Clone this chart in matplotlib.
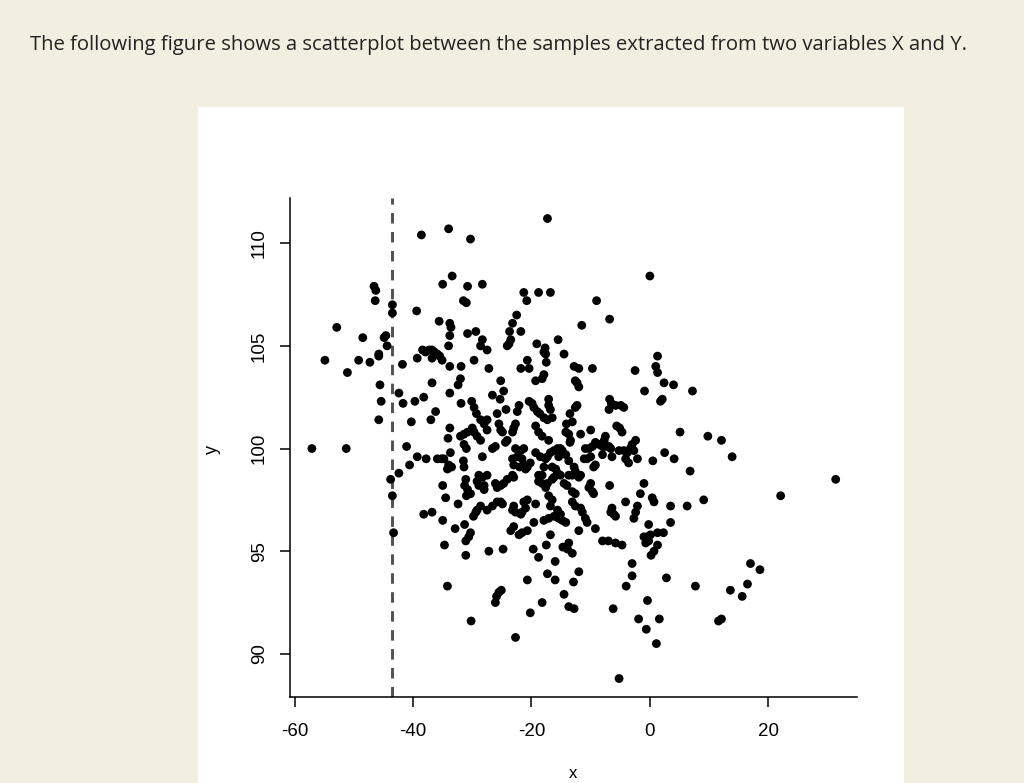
import matplotlib.pyplot as plt
from matplotlib.patches import Rectangle

plt.rcParams['axes.unicode_minus'] = False

title = "The following figure shows a scatterplot between the samples extracted from two variables X and Y."

x = [-38.6, -34.0, -30.3, -46.6, -46.3, -46.4, -43.5, -43.5, -39.4, -35.0,
     -33.4, -30.8, -28.3, -31.5, -31.0, -52.9, -48.5, -44.9, -44.6, -44.4,
     -35.6, -33.8, -33.6, -33.8, -34.0, -30.8, -29.4, -28.3, -28.6, -27.5,
     -54.9, -49.2, -47.3, -45.8, -45.8, -41.8, -39.3, -38.4, -37.9, -37.3,
     -36.8, -36.4, -35.9, -35.5, -35.1, -36.8, -33.8, -31.9, -29.7, -27.2,
     -51.1, -45.6, -36.8, -32.0, -32.4, -42.4, -45.4, -41.7, -39.7, -38.2,
     -33.8, -31.9, -30.1, -29.7, -29.3, -28.6, -28.0, -36.2, -37.0, -40.3,
     -45.8, -33.8, -34.1, -32.0, -31.4, -30.8, -30.0, -29.7, -29.2, -28.6,
     -31.4, -31.0, -27.5, -57.1, -51.3, -41.1, -39.3, -37.8, -35.9, -35.2,
     -34.8, -33.7, -34.0, -34.2, -33.5, -31.5, -31.4, -40.6, -28.3, -43.8,
     -42.4, -43.5, -35.0, -31.1, -31.3, -30.8, -30.3, -31.0, -28.9, -28.3,
     -29.2, -28.9, -28.0, -27.5, -34.5, -32.4, -38.2, -36.8, -35.0, -29.4,
     -29.2, -28.6, -27.5, -29.8, -32.9, -31.3, -30.3, -30.6, -43.3, -34.7,
     -31.1, -31.1, -27.2, -34.2, -30.2, -17.3, 0.0, -21.3, -20.8, -18.8,
     -16.8, -9.0, -6.8, -11.5, -22.5, -23.2, -23.7, -21.8, -23.5, -24.1,
     -23.8, -19.1, -17.7, -17.9, -17.6, -15.5, -14.5, -20.7, -17.5, 1.3,
     1.0, -21.8, -20.4, -12.8, -12.0, -9.7, -2.5, 1.3, -19.3, -18.2,
     -17.9, -25.2, -12.6, -12.3, -12.0, 2.4, 4.0, -0.9, 2.1, 1.8,
     -24.7, -26.6, -25.3, -22.1, -22.4, -20.4, -19.9, -19.6, -19.0, -18.6,
     -17.9, -17.3, -16.5, -17.1, -17.1, -16.8, -24.3, -25.8, -27.5, -13.5,
     -12.6, -12.3, -6.8, -6.5, -5.8, -4.9, -4.4, -6.9, -14.1, -13.1,
     -25.5, -25.2, -24.9, -22.7, -23.0, -23.2, -19.3, -18.8, -18.2, -17.1,
     -14.2, -13.7, -13.4, -13.5, -11.7, -10.0, -5.6, -5.1, -4.7, -7.5,
     -7.7, -2.4, -3.0, 5.1, -26.1, -26.6, -24.4, -24.1, -22.7, -21.8,
     -21.3, -22.4, -21.6, -21.3, -20.7, -20.2, -23.2, -23.0, -22.0, -21.0,
     -19.3, -18.5, -17.6, -17.3, -16.8, -16.2, -15.6, -15.1, -14.8, -15.4,
     -17.9, -18.2, -18.8, -16.5, -15.9, -14.2, -13.7, -12.8, -12.6, -10.9,
     -10.3, -9.7, -9.2, -8.6, -8.0, -7.5, -6.9, -6.6, -11.1, -10.6,
     -10.0, -9.2, -9.5, -8.0, -6.4, -5.2, -4.4, -3.8, -3.3, -2.7,
     -2.1, -4.1, -3.6, 0.5, 2.5, 4.1, -28.0, -26.1, -25.2, -24.7,
     -24.1, -25.8, -23.2, -23.0, -18.8, -18.2, -17.6, -17.3, -15.6, -15.1,
     -16.5, -16.2, -13.7, -13.1, -12.3, -12.0, -11.7, -14.5, -14.0, -13.1,
     -12.6, -10.0, -10.3, -9.7, -9.5, -6.8, -1.0, -26.6, -25.8, -25.2,
     -24.9, -23.0, -23.2, -22.7, -21.8, -21.6, -21.3, -20.7, -21.0, -19.3,
     -17.1, -16.5, -16.8, -15.6, -15.1, -17.9, -17.1, -16.2, -15.4, -14.8,
     -14.2, -13.1, -12.6, -11.7, -11.4, -10.9, -10.6, -6.4, -6.6, -6.1,
     -5.8, -4.1, -2.1, -2.4, -2.7, -1.6, 0.4, 0.7, 3.5, 3.5,
     -0.2, -23.0, -22.1, -21.6, -19.6, -16.8, -12.0, -9.2, -23.5, -20.7,
     -24.8, -19.7, -18.8, -17.5, -14.7, -13.7, -13.9, -13.1, -16.0, -17.3,
     -16.0, -12.0, -12.9, -20.7, -14.5, -8.0, -7.0, -5.8, -4.7, -1.0,
     -0.4, 0.1, 1.3, 2.3, -0.7, -0.2, 1.3, 0.7, 0.2, -3.0,
     -3.0, -4.0, 2.8, -0.4, -6.2, -1.9, 1.6, -0.6, 1.1, -5.2,
     -25.5, -25.9, -26.1, -25.1, -18.2, -20.2, -13.7, -12.8, -22.7, 7.2,
     9.8, 12.1, 13.9, 6.8, 6.3, 9.1, 22.1, 31.4, 7.7, 17.0,
     18.6, 16.5, 13.6, 15.6, 11.6, 12.1]

y = [110.4, 110.7, 110.2, 107.9, 107.7, 107.2, 107.0, 106.6, 106.7, 108.0,
     108.4, 107.9, 108.0, 107.2, 107.1, 105.9, 105.4, 105.4, 105.5, 105.0,
     106.2, 106.1, 105.9, 105.5, 105.0, 105.6, 105.7, 105.3, 105.0, 104.8,
     104.3, 104.3, 104.2, 104.6, 104.5, 104.1, 104.4, 104.8, 104.7, 104.8,
     104.8, 104.7, 104.6, 104.5, 104.3, 104.4, 104.0, 104.0, 104.3, 103.9,
     103.7, 103.1, 103.2, 103.4, 103.1, 102.7, 102.3, 102.2, 102.3, 102.5,
     102.7, 102.2, 102.3, 102.0, 101.7, 101.4, 101.2, 101.8, 101.4, 101.3,
     101.4, 101.0, 100.5, 100.6, 100.7, 100.8, 101.0, 100.8, 100.6, 100.4,
     100.2, 100.0, 100.9, 100.0, 100.0, 100.1, 99.6, 99.5, 99.5, 99.5,
     99.5, 99.8, 99.2, 99.0, 99.1, 99.4, 99.1, 99.2, 99.6, 98.5,
     98.8, 97.7, 98.2, 98.5, 98.2, 98.0, 97.8, 97.7, 98.7, 98.6,
     98.4, 98.2, 98.2, 98.7, 97.6, 97.3, 96.8, 96.9, 96.5, 96.9,
     97.0, 97.2, 97.0, 96.7, 96.1, 96.3, 95.9, 95.7, 95.9, 95.3,
     95.5, 94.8, 95.0, 93.3, 91.6, 111.2, 108.4, 107.6, 107.2, 107.6,
     107.6, 107.2, 106.3, 106.0, 106.5, 106.1, 105.7, 105.7, 105.3, 105.0,
     105.1, 105.1, 104.9, 104.7, 104.6, 105.3, 104.6, 104.3, 104.2, 104.5,
     104.0, 103.9, 103.9, 104.0, 103.9, 103.9, 103.8, 103.7, 103.3, 103.4,
     103.6, 103.3, 103.3, 103.2, 103.0, 103.2, 103.1, 102.8, 102.4, 102.3,
     102.8, 102.6, 102.4, 102.1, 101.8, 102.3, 102.2, 102.0, 101.8, 101.7,
     101.5, 101.4, 101.5, 102.4, 102.1, 101.9, 101.9, 101.7, 101.4, 101.7,
     102.0, 102.1, 102.4, 102.2, 102.1, 102.1, 102.0, 101.9, 101.2, 101.3,
     101.2, 100.9, 100.8, 101.2, 101.0, 100.8, 101.1, 100.8, 100.6, 100.4,
     100.8, 100.7, 100.4, 100.3, 100.7, 100.9, 101.1, 101.0, 100.8, 100.6,
     100.4, 100.4, 100.2, 100.8, 100.1, 100.0, 100.3, 100.4, 100.0, 99.9,
     100.0, 99.6, 99.5, 99.2, 99.1, 99.3, 99.5, 99.2, 99.1, 99.0,
     99.8, 99.6, 99.5, 99.6, 99.8, 99.9, 100.0, 100.0, 99.9, 99.6,
     99.1, 98.7, 98.7, 99.1, 99.0, 99.7, 99.4, 99.1, 98.9, 100.0,
     100.0, 100.1, 100.3, 100.2, 100.1, 100.1, 100.1, 100.0, 99.5, 99.5,
     99.6, 99.2, 99.1, 99.7, 99.6, 99.9, 99.9, 99.8, 100.0, 99.9,
     99.5, 99.5, 99.3, 99.4, 99.8, 99.5, 98.0, 98.3, 98.2, 98.3,
     98.5, 98.1, 98.7, 98.6, 98.4, 98.3, 98.1, 98.3, 98.8, 98.7,
     98.5, 98.6, 98.7, 98.7, 98.7, 98.6, 98.7, 98.3, 98.2, 97.9,
     97.8, 98.3, 98.1, 97.9, 97.8, 98.2, 98.3, 97.2, 97.4, 97.4,
     97.3, 97.2, 97.0, 96.9, 96.8, 96.9, 97.4, 97.5, 97.1, 97.3,
     97.7, 97.5, 97.2, 97.0, 96.8, 96.5, 96.6, 96.7, 96.6, 96.5,
     96.4, 97.4, 97.2, 97.1, 96.9, 96.6, 96.4, 97.1, 96.9, 96.8,
     96.7, 97.4, 97.2, 96.9, 96.6, 97.8, 97.6, 97.4, 97.2, 96.4,
     96.3, 96.2, 95.8, 95.9, 96.4, 95.8, 96.0, 96.1, 96.0, 96.0,
     95.1, 95.1, 94.7, 95.3, 95.2, 95.4, 95.1, 94.9, 94.5, 93.9,
     93.6, 94.0, 93.5, 93.6, 92.9, 95.5, 95.5, 95.4, 95.3, 95.7,
     95.7, 95.8, 95.9, 95.9, 95.4, 95.5, 95.3, 95.0, 94.8, 94.4,
     93.8, 93.3, 93.7, 92.6, 92.2, 91.7, 91.7, 91.2, 90.5, 88.8,
     93.0, 92.8, 92.5, 93.1, 92.5, 92.0, 92.3, 92.2, 90.8, 102.8,
     100.6, 100.4, 99.6, 98.9, 97.2, 97.5, 97.7, 98.5, 93.3, 94.4,
     94.1, 93.4, 93.1, 92.8, 91.6, 91.7]

x_ticks = [-60, -40, -20, 0, 20]
y_ticks = [90, 95, 100, 105, 110]
cutoff = -43.6

W, H = 1024, 783
fig = plt.figure(figsize=(W / 100, H / 100), dpi=100)
fig.patch.set_facecolor('#f2eee0')

# white card behind the plot
fig.add_artist(Rectangle((198 / W, 0), (904 - 198) / W, 1 - 107 / H,
                         transform=fig.transFigure, facecolor='white',
                         edgecolor='none', zorder=0))

fig.text(30 / W, 1 - 45 / H, title, fontsize=14.6, family='Open Sans',
         color='#222222', ha='left', va='center')

ax = fig.add_axes([290 / W, 1 - 697 / H, (857 - 290) / W, (697 - 198) / H])
ax.set_facecolor('white')
ax.scatter(x, y, s=40, color='black', edgecolors='none', zorder=3)
ax.axvline(cutoff, color='#505050', linewidth=2.1, linestyle=(0, (3.6, 2.9)), zorder=2)

ax.set_xlim(-60.8, 35.0)
ax.set_ylim(87.9, 112.2)
ax.set_xticks(x_ticks)
ax.set_yticks(y_ticks)
ax.set_yticklabels([str(v) for v in y_ticks], rotation=90, va='center')

for s in ['top', 'right']:
    ax.spines[s].set_visible(False)
for s in ['left', 'bottom']:
    ax.spines[s].set_linewidth(1.1)
    ax.spines[s].set_color('black')

ax.tick_params(axis='both', direction='out', length=7, width=1.1,
               labelsize=13.5, colors='black')
ax.tick_params(axis='x', pad=12)
ax.tick_params(axis='y', pad=9)
for lab in ax.get_xticklabels() + ax.get_yticklabels():
    lab.set_family('Liberation Sans')

fig.text(212 / W, 1 - 449 / H, 'y', fontsize=13, family='Liberation Sans',
         rotation=90, ha='center', va='center')
fig.text(573 / W, 1 - 774 / H, 'x', fontsize=12, family='Liberation Sans',
         ha='center', va='center')

fig.savefig('out.png', dpi=100, facecolor=fig.get_facecolor())
